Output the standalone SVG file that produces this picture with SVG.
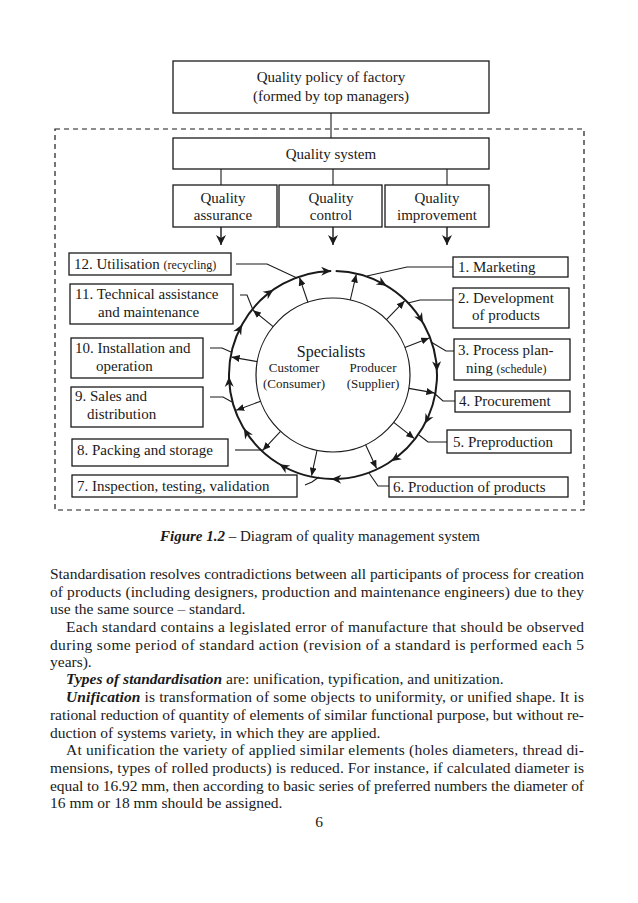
<svg xmlns="http://www.w3.org/2000/svg" xmlns:xlink="http://www.w3.org/1999/xlink" width="638" height="903" viewBox="0 0 638 903">
<style>
.bx{fill:#fff;stroke:#1a1a1a;stroke-width:1.3}
.t{font-family:"Liberation Serif","Times New Roman",serif;font-size:15px;fill:#1a1a1a}
.c{text-anchor:middle}
.sm{font-size:12px}
.ln{fill:none;stroke:#1a1a1a;stroke-width:1.1}
.sp{fill:none;stroke:#1a1a1a;stroke-width:1.1;marker-end:url(#sa)}
.dn{fill:none;stroke:#1a1a1a;stroke-width:1.4;marker-end:url(#da)}
.b{font-family:"Liberation Serif","Times New Roman",serif;font-size:15.5px;fill:#1a1a1a}
.bi{font-weight:bold;font-style:italic}
</style>
<defs>
<marker id="sa" markerUnits="userSpaceOnUse" markerWidth="9" markerHeight="7" refX="8" refY="3.5" orient="auto"><path d="M0,0 L8,3.5 L0,7 Z" fill="#1a1a1a"/></marker>
<marker id="da" markerUnits="userSpaceOnUse" markerWidth="11" markerHeight="10" refX="10" refY="5" orient="auto"><path d="M0,0 L10,5 L0,10 L3,5 Z" fill="#1a1a1a"/></marker>
<path id="cah" d="M0,0 L-10,-4.5 L-7,0 L-10,4.5 Z" fill="#1a1a1a"/>
</defs>
<rect width="638" height="903" fill="#fff"/>

<rect x="55" y="129" width="529" height="381" fill="none" stroke="#1a1a1a" stroke-width="1.2" stroke-dasharray="5,4"/>

<g id="connectors">
<line class="ln" x1="331" y1="113" x2="331" y2="138"/>
<line class="ln" x1="221" y1="169" x2="221" y2="185"/>
<line class="ln" x1="333" y1="169" x2="333" y2="185"/>
<line class="ln" x1="447" y1="169" x2="447" y2="185"/>
<line class="dn" x1="221" y1="227" x2="221" y2="245"/>
<line class="dn" x1="333" y1="227" x2="333" y2="245"/>
<line class="dn" x1="447" y1="227" x2="447" y2="245"/>
<!-- leaders -->
<polyline class="ln" points="453,267 407,267 367,276"/>
<polyline class="ln" points="453,300 420,300 408,303"/>
<polyline class="ln" points="454,351 446,351 431,342"/>
<polyline class="ln" points="455,401 443,401 434,393"/>
<polyline class="ln" points="447,442 428,442 419,435"/>
<polyline class="ln" points="389,486 378,486 369,473"/>
<polyline class="ln" points="305,485 312,482 319,477"/>
<polyline class="ln" points="235,450 263,450"/>
<polyline class="ln" points="210,397 223,397 232,402"/>
<polyline class="ln" points="210,348 222,348 231,352"/>
<polyline class="ln" points="240,295 247,295 253,310"/>
<polyline class="ln" points="236,264 267,264 297,278"/>
<!-- spokes -->
<line class="sp" x1="350.3" y1="300.0" x2="356.2" y2="274.6"/>
<line class="sp" x1="386.5" y1="319.6" x2="404.6" y2="300.9"/>
<line class="sp" x1="404.9" y1="347.4" x2="429.2" y2="338.1"/>
<line class="sp" x1="408.8" y1="388.4" x2="434.4" y2="392.9"/>
<line class="sp" x1="393.7" y1="422.4" x2="414.2" y2="438.4"/>
<line class="sp" x1="365.6" y1="444.8" x2="376.5" y2="468.3"/>
<line class="sp" x1="317.0" y1="450.3" x2="311.6" y2="475.7"/>
<line class="sp" x1="280.5" y1="431.3" x2="262.8" y2="450.3"/>
<line class="sp" x1="260.6" y1="401.3" x2="236.2" y2="410.2"/>
<line class="sp" x1="257.2" y1="361.6" x2="231.6" y2="357.1"/>
<line class="sp" x1="273.2" y1="326.6" x2="253.0" y2="310.2"/>
<line class="sp" x1="307.9" y1="302.2" x2="299.5" y2="277.6"/>
<!-- outer cycle -->
<path d="M335.72,271.04 A104,104 0 1 1 331.18,271.02" fill="none" stroke="#1a1a1a" stroke-width="2"/>
<use xlink:href="#cah" transform="rotate(-1 333 375) translate(333 271)"/>
<use xlink:href="#cah" transform="rotate(31 333 375) translate(333 271)"/>
<use xlink:href="#cah" transform="rotate(60 333 375) translate(333 271)"/>
<use xlink:href="#cah" transform="rotate(88 333 375) translate(333 271)"/>
<use xlink:href="#cah" transform="rotate(118 333 375) translate(333 271)"/>
<use xlink:href="#cah" transform="rotate(146 333 375) translate(333 271)"/>
<use xlink:href="#cah" transform="rotate(181 333 375) translate(333 271)"/>
<use xlink:href="#cah" transform="rotate(211 333 375) translate(333 271)"/>
<use xlink:href="#cah" transform="rotate(239 333 375) translate(333 271)"/>
<use xlink:href="#cah" transform="rotate(269 333 375) translate(333 271)"/>
<use xlink:href="#cah" transform="rotate(299 333 375) translate(333 271)"/>
<use xlink:href="#cah" transform="rotate(325 333 375) translate(333 271)"/>
</g>

<g id="policy"><rect class="bx" x="173" y="61" width="316" height="52"/>
<text class="t c" x="331" y="82">Quality policy of factory</text>
<text class="t c" x="331" y="101">(formed by top managers)</text></g>

<g id="qsystem"><rect class="bx" x="173" y="138" width="316" height="31"/>
<text class="t c" x="331" y="159">Quality system</text></g>

<g id="qassurance"><rect class="bx" x="173" y="185" width="104" height="42"/>
<text class="t c" x="223" y="203">Quality</text><text class="t c" x="223" y="220">assurance</text></g>
<g id="qcontrol"><rect class="bx" x="279" y="185" width="103" height="42"/>
<text class="t c" x="331" y="203">Quality</text><text class="t c" x="331" y="220">control</text></g>
<g id="qimprovement"><rect class="bx" x="385" y="185" width="104" height="42"/>
<text class="t c" x="437" y="203">Quality</text><text class="t c" x="437" y="220">improvement</text></g>

<g id="specialists">
<circle cx="333" cy="375" r="77" fill="none" stroke="#1a1a1a" stroke-width="1.2"/>
<text class="t c" x="331" y="357" style="font-size:16px">Specialists</text>
<text class="t c" x="294" y="372" style="font-size:13px">Customer</text>
<text class="t c" x="294" y="388" style="font-size:13px">(Consumer)</text>
<text class="t c" x="373" y="372" style="font-size:13px">Producer</text>
<text class="t c" x="373" y="388" style="font-size:13px">(Supplier)</text>
</g>

<g id="n1"><rect class="bx" x="453" y="257" width="115" height="20"/><text class="t" x="458" y="272">1. Marketing</text></g>
<g id="n2"><rect class="bx" x="453" y="288" width="116" height="40"/><text class="t" x="458" y="303">2. Development</text><text class="t" x="472" y="320">of products</text></g>
<g id="n3"><rect class="bx" x="454" y="339" width="116" height="41"/><text class="t" x="458" y="355">3. Process plan-</text><text class="t" x="466" y="373">ning <tspan class="sm">(schedule)</tspan></text></g>
<g id="n4"><rect class="bx" x="455" y="391" width="115" height="21"/><text class="t" x="459" y="406">4. Procurement</text></g>
<g id="n5"><rect class="bx" x="447" y="430" width="124" height="23"/><text class="t" x="453" y="447">5. Preproduction</text></g>
<g id="n6"><rect class="bx" x="389" y="477" width="179" height="20"/><text class="t" x="393" y="492">6. Production of products</text></g>
<g id="n7"><rect class="bx" x="72" y="475" width="225" height="22"/><text class="t" x="77" y="491">7. Inspection, testing, validation</text></g>
<g id="n8"><rect class="bx" x="72" y="439" width="156" height="27"/><text class="t" x="77" y="455">8. Packing and storage</text></g>
<g id="n9"><rect class="bx" x="71" y="387" width="132" height="40"/><text class="t" x="75" y="401">9. Sales and</text><text class="t" x="87" y="419">distribution</text></g>
<g id="n10"><rect class="bx" x="71" y="338" width="132" height="40"/><text class="t" x="75" y="353">10. Installation and</text><text class="t" x="96" y="371">operation</text></g>
<g id="n11"><rect class="bx" x="70" y="284" width="163" height="40"/><text class="t" x="75" y="299">11. Technical assistance</text><text class="t" x="98" y="317">and maintenance</text></g>
<g id="n12"><rect class="bx" x="69" y="253" width="162" height="22"/><text class="t" x="74" y="269">12. Utilisation <tspan class="sm">(recycling)</tspan></text></g>

<text class="b c" x="320" y="541" style="font-size:15px"><tspan class="bi">Figure 1.2</tspan> – Diagram of quality management system</text>

<text class="b" x="50" y="579" textLength="534" lengthAdjust="spacing">Standardisation resolves contradictions between all participants of process for creation</text>
<text class="b" x="50" y="597" textLength="534" lengthAdjust="spacing">of products (including designers, production and maintenance engineers) due to they</text>
<text class="b" x="50" y="614">use the same source – standard.</text>
<text class="b" x="66" y="632" textLength="518" lengthAdjust="spacing">Each standard contains a legislated error of manufacture that should be observed</text>
<text class="b" x="50" y="650" textLength="534" lengthAdjust="spacing">during some period of standard action (revision of a standard is performed each 5</text>
<text class="b" x="50" y="667">years).</text>
<text class="b" x="66" y="684"><tspan class="bi">Types of standardisation</tspan> are: unification, typification, and unitization.</text>
<text class="b" x="66" y="702" textLength="518" lengthAdjust="spacing"><tspan class="bi">Unification</tspan> is transformation of some objects to uniformity, or unified shape. It is</text>
<text class="b" x="50" y="720" textLength="534" lengthAdjust="spacing">rational reduction of quantity of elements of similar functional purpose, but without re-</text>
<text class="b" x="50" y="738">duction of systems variety, in which they are applied.</text>
<text class="b" x="66" y="755" textLength="518" lengthAdjust="spacing">At unification the variety of applied similar elements (holes diameters, thread di-</text>
<text class="b" x="50" y="773" textLength="534" lengthAdjust="spacing">mensions, types of rolled products) is reduced. For instance, if calculated diameter is</text>
<text class="b" x="50" y="791" textLength="534" lengthAdjust="spacing">equal to 16.92 mm, then according to basic series of preferred numbers the diameter of</text>
<text class="b" x="50" y="808">16 mm or 18 mm should be assigned.</text>
<text class="b c" x="319" y="827">6</text>
</svg>
